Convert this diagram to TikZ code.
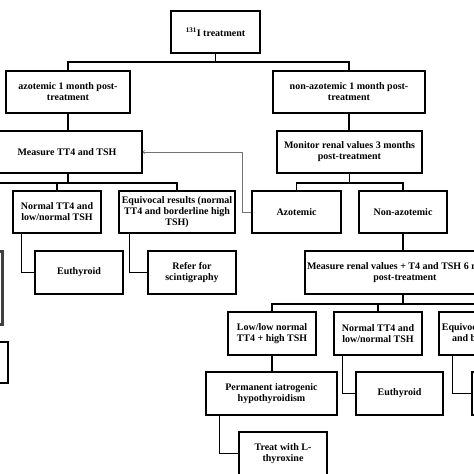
\documentclass[tikz,border=0pt]{standalone}
\usepackage{fontspec}
\setmainfont{Liberation Serif}
\usepackage{tikz}
\usetikzlibrary{backgrounds}
\tikzstyle{chart}=[
  x=1pt,y=-1pt,font=\fontsize{10}{11}\selectfont\bfseries
]
\tikzstyle{stepbox}=[
  draw,line width=1.5pt,align=center,inner sep=2pt,fill=white,minimum height=42pt
]
\tikzstyle{link}=[
  line width=1.5pt
]
\tikzstyle{backlink}=[
  line width=0.6pt,draw=black!55,->,>=to
]
\tikzstyle{darkbox}=[
  stepbox,line width=3pt,draw=black!75
]

\begin{document}
\begin{tikzpicture}[chart]
    \useasboundingbox (0,0) rectangle (474,474);
    \clip (0,0) rectangle (474,474);
    \node (trt) at (215.5,32) [stepbox,minimum width=89pt] {\textsuperscript{131}I treatment};
    \node (azo1) at (68,92) [stepbox,minimum width=124pt] {azotemic 1 month post-\\treatment};
    \node (nazo1) at (349,92) [stepbox,minimum width=152pt] {non-azotemic 1 month post-\\treatment};
    \node (tt4) at (67,152) [stepbox,minimum width=150pt] {Measure TT4 and TSH};
    \node (renal3) at (349.5,152) [stepbox,minimum width=145pt] {Monitor renal values 3 months\\post-treatment};
    % left branch
    \node (low1) at (-57,212) [stepbox,minimum width=88pt] {};
    \node (norm1) at (57,212) [stepbox,minimum width=88pt] {Normal TT4 and\\low/normal TSH};
    \node (equi1) at (177,212) [stepbox,minimum width=116pt] {Equivocal results (normal\\TT4 and borderline high\\TSH)};
    \node (perm1) at (-60,287.5) [darkbox,minimum width=124pt,minimum height=73pt] {};
    \node (thy1) at (-36,362.5) [stepbox,minimum width=88pt,minimum height=41pt] {};
    \node (eu1) at (79,272.5) [stepbox,minimum width=88pt,minimum height=43pt] {Euthyroid};
    \node (ref1) at (192,272.5) [stepbox,minimum width=88pt,minimum height=43pt] {Refer for\\scintigraphy};
    % right branch
    \node (azo2) at (296.5,212) [stepbox,minimum width=89pt] {Azotemic};
    \node (nazo2) at (403,212) [stepbox,minimum width=88pt] {Non-azotemic};
    \node (renal6) at (405,272.5) [stepbox,minimum width=194pt,minimum height=43pt] {Measure renal values + T4 and TSH 6 months\\post-treatment};
    \node (low2) at (272,333.5) [stepbox,minimum width=88pt,minimum height=43pt] {Low/low normal\\TT4 + high TSH};
    \node (norm2) at (378,333.5) [stepbox,minimum width=88pt,minimum height=43pt] {Normal TT4 and\\low/normal TSH};
    \node (equi2) at (507.5,333.5) [stepbox,minimum width=137pt,minimum height=43pt] {Equivocal results (normal TT4\\and borderline high TSH)};
    \node (perm2) at (271.5,393.5) [stepbox,minimum width=131pt,minimum height=43pt] {Permanent iatrogenic\\hypothyroidism};
    \node (eu2) at (399.5,393.5) [stepbox,minimum width=87pt,minimum height=43pt] {Euthyroid};
    \node (ref2) at (516,393.5) [stepbox,minimum width=88pt,minimum height=43pt] {Refer for\\scintigraphy};
    \node (thy2) at (283,453.5) [stepbox,minimum width=88pt,minimum height=43pt] {Treat with L-\\thyroxine};
    \begin{scope}[on background layer]
      \coordinate (b1) at (215.5,62);
      \draw [link] (trt) -- (b1);
      \draw [link] (azo1.north) |- (b1) -| (nazo1.north);
      \draw [link] (azo1.south) -- (azo1.south |- tt4.north);
      \draw [link] (nazo1.south) -- (nazo1.south |- renal3.north);
      % under TT4 and TSH
      \draw [link] (tt4.south -| azo1.south) -- ++(0,9) coordinate (b2);
      \draw [link] (low1.north) |- (b2) -| (equi1.north);
      \draw [link] (norm1.north) -- (norm1.north |- b2);
      \draw [link] (low1.south) -- (low1.south |- perm1.north);
      \draw [link] ([xshift=14pt]perm1.south west) |- (thy1.west);
      \draw [link] ([xshift=9pt]norm1.south west) |- (eu1.west);
      \draw [link] ([xshift=11pt]equi1.south west) |- (ref1.west);
      % under renal values 3 months
      \draw [link] (renal3.south) -- ++(0,9) coordinate (b3);
      \draw [link] (azo2.north) |- (b3) -| (nazo2.north);
      \draw [link] (nazo2.south) -- (nazo2.south |- renal6.north);
      % under renal values 6 months
      \draw [link] (renal6.south -| nazo2.south) -- ++(0,9) coordinate (b4);
      \draw [link] (low2.north) |- (b4) -| (equi2.north);
      \draw [link] (norm2.north) -- (norm2.north |- b4);
      \draw [link] (low2.south) -- (low2.south |- perm2.north);
      \draw [link] ([xshift=9pt]norm2.south west) |- (eu2.west);
      \draw [link] ([xshift=14pt]equi2.south west) |- (ref2.west);
      \draw [link] ([xshift=14pt]perm2.south west) |- (thy2.west);
    \end{scope}
    \draw [backlink] (azo2.west) -- ++(-9,0) |- (tt4.east);
\end{tikzpicture}
\end{document}
